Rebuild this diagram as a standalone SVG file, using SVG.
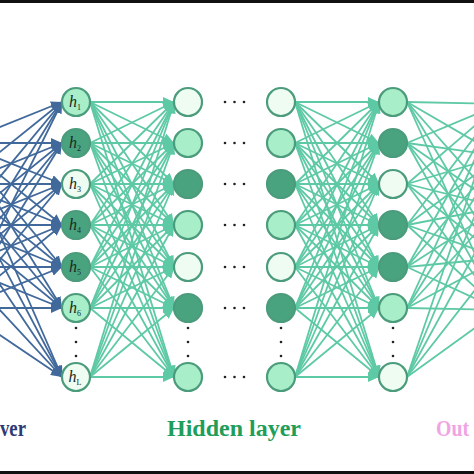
<svg xmlns="http://www.w3.org/2000/svg" width="474" height="474" viewBox="0 0 474 474">
<style>
.bl line{stroke:#41699b;stroke-width:1.8;marker-end:url(#ab)}
.tl line{stroke:#5ec9a5;stroke-width:1.8;marker-end:url(#at)}
.ol line{stroke:#5ec9a5;stroke-width:1.8}
.n{stroke:#4b9c7c;stroke-width:2.2}
.L{fill:#a8eec8}.V{fill:#eefcf2}.D{fill:#4aa37f}
.lab{font-family:"Liberation Serif",serif;font-style:italic;font-size:16px;fill:#1a2a22;text-anchor:middle}
.sub{font-size:8px;font-style:normal}
.dot{fill:#222}
.ttl{font-family:"Liberation Serif",serif;font-weight:bold;font-size:24px}
</style>
<defs>
<marker id="ab" markerUnits="userSpaceOnUse" markerWidth="11" markerHeight="10" refX="11" refY="5" orient="auto"><path d="M0,0 L11,5 L0,10 z" fill="#41699b"/></marker>
<marker id="at" markerUnits="userSpaceOnUse" markerWidth="11" markerHeight="10" refX="11" refY="5" orient="auto"><path d="M0,0 L11,5 L0,10 z" fill="#5ec9a5"/></marker>
</defs>
<rect x="0" y="0" width="474" height="474" fill="#fff"/>
<rect x="0" y="0" width="474" height="3" fill="#111"/>
<rect x="0" y="471" width="474" height="3" fill="#111"/>
<g id="connectors">
<g class="bl">
<line x1="-40" y1="143" x2="62" y2="102"/><line x1="-40" y1="143" x2="62" y2="143"/><line x1="-40" y1="143" x2="62" y2="184"/><line x1="-40" y1="143" x2="62" y2="225"/><line x1="-40" y1="143" x2="62" y2="267"/><line x1="-40" y1="143" x2="62" y2="308"/><line x1="-40" y1="143" x2="62" y2="377"/>
<line x1="-40" y1="184" x2="62" y2="102"/><line x1="-40" y1="184" x2="62" y2="143"/><line x1="-40" y1="184" x2="62" y2="184"/><line x1="-40" y1="184" x2="62" y2="225"/><line x1="-40" y1="184" x2="62" y2="267"/><line x1="-40" y1="184" x2="62" y2="308"/><line x1="-40" y1="184" x2="62" y2="377"/>
<line x1="-40" y1="225" x2="62" y2="102"/><line x1="-40" y1="225" x2="62" y2="143"/><line x1="-40" y1="225" x2="62" y2="184"/><line x1="-40" y1="225" x2="62" y2="225"/><line x1="-40" y1="225" x2="62" y2="267"/><line x1="-40" y1="225" x2="62" y2="308"/><line x1="-40" y1="225" x2="62" y2="377"/>
<line x1="-40" y1="267" x2="62" y2="102"/><line x1="-40" y1="267" x2="62" y2="143"/><line x1="-40" y1="267" x2="62" y2="184"/><line x1="-40" y1="267" x2="62" y2="225"/><line x1="-40" y1="267" x2="62" y2="267"/><line x1="-40" y1="267" x2="62" y2="308"/><line x1="-40" y1="267" x2="62" y2="377"/>
<line x1="-40" y1="308" x2="62" y2="102"/><line x1="-40" y1="308" x2="62" y2="143"/><line x1="-40" y1="308" x2="62" y2="184"/><line x1="-40" y1="308" x2="62" y2="225"/><line x1="-40" y1="308" x2="62" y2="267"/><line x1="-40" y1="308" x2="62" y2="308"/><line x1="-40" y1="308" x2="62" y2="377"/>
</g>
<g class="tl">
<line x1="90" y1="102" x2="174" y2="102"/><line x1="90" y1="102" x2="174" y2="143"/><line x1="90" y1="102" x2="174" y2="184"/><line x1="90" y1="102" x2="174" y2="225"/><line x1="90" y1="102" x2="174" y2="267"/><line x1="90" y1="102" x2="174" y2="308"/><line x1="90" y1="102" x2="174" y2="377"/>
<line x1="90" y1="143" x2="174" y2="102"/><line x1="90" y1="143" x2="174" y2="143"/><line x1="90" y1="143" x2="174" y2="184"/><line x1="90" y1="143" x2="174" y2="225"/><line x1="90" y1="143" x2="174" y2="267"/><line x1="90" y1="143" x2="174" y2="308"/><line x1="90" y1="143" x2="174" y2="377"/>
<line x1="90" y1="184" x2="174" y2="102"/><line x1="90" y1="184" x2="174" y2="143"/><line x1="90" y1="184" x2="174" y2="184"/><line x1="90" y1="184" x2="174" y2="225"/><line x1="90" y1="184" x2="174" y2="267"/><line x1="90" y1="184" x2="174" y2="308"/><line x1="90" y1="184" x2="174" y2="377"/>
<line x1="90" y1="225" x2="174" y2="102"/><line x1="90" y1="225" x2="174" y2="143"/><line x1="90" y1="225" x2="174" y2="184"/><line x1="90" y1="225" x2="174" y2="225"/><line x1="90" y1="225" x2="174" y2="267"/><line x1="90" y1="225" x2="174" y2="308"/><line x1="90" y1="225" x2="174" y2="377"/>
<line x1="90" y1="267" x2="174" y2="102"/><line x1="90" y1="267" x2="174" y2="143"/><line x1="90" y1="267" x2="174" y2="184"/><line x1="90" y1="267" x2="174" y2="225"/><line x1="90" y1="267" x2="174" y2="267"/><line x1="90" y1="267" x2="174" y2="308"/><line x1="90" y1="267" x2="174" y2="377"/>
<line x1="90" y1="308" x2="174" y2="102"/><line x1="90" y1="308" x2="174" y2="143"/><line x1="90" y1="308" x2="174" y2="184"/><line x1="90" y1="308" x2="174" y2="225"/><line x1="90" y1="308" x2="174" y2="267"/><line x1="90" y1="308" x2="174" y2="308"/><line x1="90" y1="308" x2="174" y2="377"/>
<line x1="90" y1="377" x2="174" y2="102"/><line x1="90" y1="377" x2="174" y2="143"/><line x1="90" y1="377" x2="174" y2="184"/><line x1="90" y1="377" x2="174" y2="225"/><line x1="90" y1="377" x2="174" y2="267"/><line x1="90" y1="377" x2="174" y2="308"/><line x1="90" y1="377" x2="174" y2="377"/>
</g>
<g class="tl">
<line x1="295" y1="102" x2="379" y2="102"/><line x1="295" y1="102" x2="379" y2="143"/><line x1="295" y1="102" x2="379" y2="184"/><line x1="295" y1="102" x2="379" y2="225"/><line x1="295" y1="102" x2="379" y2="267"/><line x1="295" y1="102" x2="379" y2="308"/><line x1="295" y1="102" x2="379" y2="377"/>
<line x1="295" y1="143" x2="379" y2="102"/><line x1="295" y1="143" x2="379" y2="143"/><line x1="295" y1="143" x2="379" y2="184"/><line x1="295" y1="143" x2="379" y2="225"/><line x1="295" y1="143" x2="379" y2="267"/><line x1="295" y1="143" x2="379" y2="308"/><line x1="295" y1="143" x2="379" y2="377"/>
<line x1="295" y1="184" x2="379" y2="102"/><line x1="295" y1="184" x2="379" y2="143"/><line x1="295" y1="184" x2="379" y2="184"/><line x1="295" y1="184" x2="379" y2="225"/><line x1="295" y1="184" x2="379" y2="267"/><line x1="295" y1="184" x2="379" y2="308"/><line x1="295" y1="184" x2="379" y2="377"/>
<line x1="295" y1="225" x2="379" y2="102"/><line x1="295" y1="225" x2="379" y2="143"/><line x1="295" y1="225" x2="379" y2="184"/><line x1="295" y1="225" x2="379" y2="225"/><line x1="295" y1="225" x2="379" y2="267"/><line x1="295" y1="225" x2="379" y2="308"/><line x1="295" y1="225" x2="379" y2="377"/>
<line x1="295" y1="267" x2="379" y2="102"/><line x1="295" y1="267" x2="379" y2="143"/><line x1="295" y1="267" x2="379" y2="184"/><line x1="295" y1="267" x2="379" y2="225"/><line x1="295" y1="267" x2="379" y2="267"/><line x1="295" y1="267" x2="379" y2="308"/><line x1="295" y1="267" x2="379" y2="377"/>
<line x1="295" y1="308" x2="379" y2="102"/><line x1="295" y1="308" x2="379" y2="143"/><line x1="295" y1="308" x2="379" y2="184"/><line x1="295" y1="308" x2="379" y2="225"/><line x1="295" y1="308" x2="379" y2="267"/><line x1="295" y1="308" x2="379" y2="308"/><line x1="295" y1="308" x2="379" y2="377"/>
<line x1="295" y1="377" x2="379" y2="102"/><line x1="295" y1="377" x2="379" y2="143"/><line x1="295" y1="377" x2="379" y2="184"/><line x1="295" y1="377" x2="379" y2="225"/><line x1="295" y1="377" x2="379" y2="267"/><line x1="295" y1="377" x2="379" y2="308"/><line x1="295" y1="377" x2="379" y2="377"/>
</g>
<g class="ol">
<line x1="407" y1="102" x2="500" y2="104"/><line x1="407" y1="102" x2="500" y2="156"/><line x1="407" y1="102" x2="500" y2="207"/><line x1="407" y1="102" x2="500" y2="258"/><line x1="407" y1="102" x2="500" y2="310"/>
<line x1="407" y1="143" x2="500" y2="104"/><line x1="407" y1="143" x2="500" y2="156"/><line x1="407" y1="143" x2="500" y2="207"/><line x1="407" y1="143" x2="500" y2="258"/><line x1="407" y1="143" x2="500" y2="310"/>
<line x1="407" y1="184" x2="500" y2="104"/><line x1="407" y1="184" x2="500" y2="156"/><line x1="407" y1="184" x2="500" y2="207"/><line x1="407" y1="184" x2="500" y2="258"/><line x1="407" y1="184" x2="500" y2="310"/>
<line x1="407" y1="225" x2="500" y2="104"/><line x1="407" y1="225" x2="500" y2="156"/><line x1="407" y1="225" x2="500" y2="207"/><line x1="407" y1="225" x2="500" y2="258"/><line x1="407" y1="225" x2="500" y2="310"/>
<line x1="407" y1="267" x2="500" y2="104"/><line x1="407" y1="267" x2="500" y2="156"/><line x1="407" y1="267" x2="500" y2="207"/><line x1="407" y1="267" x2="500" y2="258"/><line x1="407" y1="267" x2="500" y2="310"/>
<line x1="407" y1="308" x2="500" y2="104"/><line x1="407" y1="308" x2="500" y2="156"/><line x1="407" y1="308" x2="500" y2="207"/><line x1="407" y1="308" x2="500" y2="258"/><line x1="407" y1="308" x2="500" y2="310"/>
<line x1="407" y1="377" x2="500" y2="104"/><line x1="407" y1="377" x2="500" y2="156"/><line x1="407" y1="377" x2="500" y2="207"/><line x1="407" y1="377" x2="500" y2="258"/><line x1="407" y1="377" x2="500" y2="310"/>
</g>
</g>
<g id="layer1">
<g id="h1"><circle class="n L" cx="76" cy="102" r="14"/><text class="lab" x="75" y="107">h<tspan class="sub" dy="3">1</tspan></text></g>
<g id="h2"><circle class="n D" cx="76" cy="143" r="14"/><text class="lab" x="75" y="148">h<tspan class="sub" dy="3">2</tspan></text></g>
<g id="h3"><circle class="n V" cx="76" cy="184" r="14"/><text class="lab" x="75" y="189">h<tspan class="sub" dy="3">3</tspan></text></g>
<g id="h4"><circle class="n D" cx="76" cy="225" r="14"/><text class="lab" x="75" y="230">h<tspan class="sub" dy="3">4</tspan></text></g>
<g id="h5"><circle class="n D" cx="76" cy="267" r="14"/><text class="lab" x="75" y="272">h<tspan class="sub" dy="3">5</tspan></text></g>
<g id="h6"><circle class="n L" cx="76" cy="308" r="14"/><text class="lab" x="75" y="313">h<tspan class="sub" dy="3">6</tspan></text></g>
<g id="hL"><circle class="n V" cx="76" cy="377" r="14"/><text class="lab" x="75" y="382">h<tspan class="sub" dy="3">L</tspan></text></g>
</g>
<g id="layer2">
<circle id="a1" class="n V" cx="188" cy="102" r="14"/><circle id="a2" class="n L" cx="188" cy="143" r="14"/><circle id="a3" class="n D" cx="188" cy="184" r="14"/><circle id="a4" class="n L" cx="188" cy="225" r="14"/><circle id="a5" class="n V" cx="188" cy="267" r="14"/><circle id="a6" class="n D" cx="188" cy="308" r="14"/><circle id="a7" class="n L" cx="188" cy="377" r="14"/>
</g>
<g id="layer3">
<circle id="b1" class="n V" cx="281" cy="102" r="14"/><circle id="b2" class="n L" cx="281" cy="143" r="14"/><circle id="b3" class="n D" cx="281" cy="184" r="14"/><circle id="b4" class="n L" cx="281" cy="225" r="14"/><circle id="b5" class="n V" cx="281" cy="267" r="14"/><circle id="b6" class="n D" cx="281" cy="308" r="14"/><circle id="b7" class="n L" cx="281" cy="377" r="14"/>
</g>
<g id="layer4">
<circle id="c1" class="n L" cx="393" cy="102" r="14"/><circle id="c2" class="n D" cx="393" cy="143" r="14"/><circle id="c3" class="n V" cx="393" cy="184" r="14"/><circle id="c4" class="n D" cx="393" cy="225" r="14"/><circle id="c5" class="n D" cx="393" cy="267" r="14"/><circle id="c6" class="n L" cx="393" cy="308" r="14"/><circle id="c7" class="n V" cx="393" cy="377" r="14"/>
</g>
<g id="dots" class="dot">
<circle cx="76" cy="328" r="1.3"/><circle cx="76" cy="342" r="1.3"/><circle cx="76" cy="356" r="1.3"/>
<circle cx="188" cy="328" r="1.3"/><circle cx="188" cy="342" r="1.3"/><circle cx="188" cy="356" r="1.3"/>
<circle cx="281" cy="328" r="1.3"/><circle cx="281" cy="342" r="1.3"/><circle cx="281" cy="356" r="1.3"/>
<circle cx="393" cy="328" r="1.3"/><circle cx="393" cy="342" r="1.3"/><circle cx="393" cy="356" r="1.3"/>
<circle cx="225" cy="102" r="1.3"/><circle cx="234.5" cy="102" r="1.3"/><circle cx="244" cy="102" r="1.3"/>
<circle cx="225" cy="143" r="1.3"/><circle cx="234.5" cy="143" r="1.3"/><circle cx="244" cy="143" r="1.3"/>
<circle cx="225" cy="184" r="1.3"/><circle cx="234.5" cy="184" r="1.3"/><circle cx="244" cy="184" r="1.3"/>
<circle cx="225" cy="225" r="1.3"/><circle cx="234.5" cy="225" r="1.3"/><circle cx="244" cy="225" r="1.3"/>
<circle cx="225" cy="267" r="1.3"/><circle cx="234.5" cy="267" r="1.3"/><circle cx="244" cy="267" r="1.3"/>
<circle cx="225" cy="308" r="1.3"/><circle cx="234.5" cy="308" r="1.3"/><circle cx="244" cy="308" r="1.3"/>
<circle cx="225" cy="377" r="1.3"/><circle cx="234.5" cy="377" r="1.3"/><circle cx="244" cy="377" r="1.3"/>
</g>
<text class="ttl" x="0" y="436" fill="#2b3a78" textLength="26" lengthAdjust="spacingAndGlyphs">ver</text>
<text class="ttl" x="436" y="436" fill="#f0a4e4" textLength="33" lengthAdjust="spacingAndGlyphs">Out</text>
<text class="ttl" x="167" y="436" fill="#1e9e5a">Hidden layer</text>
</svg>
